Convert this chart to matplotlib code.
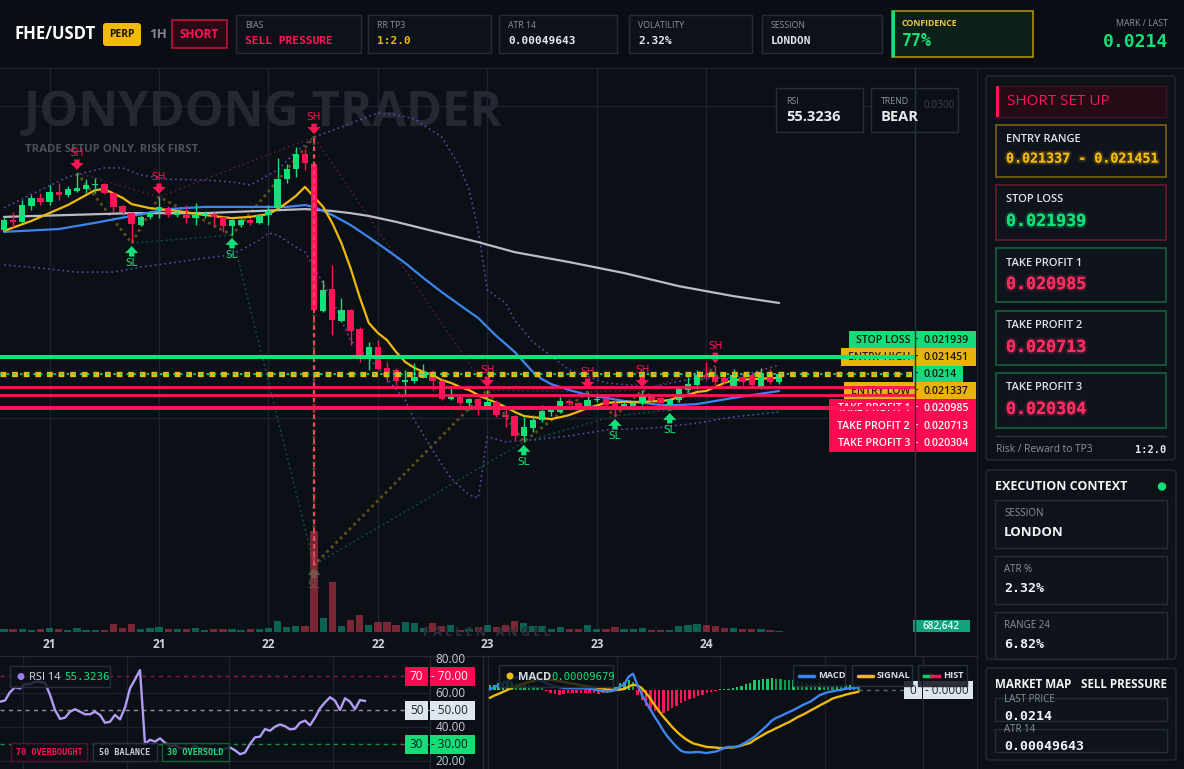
import matplotlib
matplotlib.use('Agg')
import matplotlib.pyplot as plt
import numpy as np
from matplotlib.patches import Rectangle, FancyBboxPatch, Circle
from matplotlib.transforms import Affine2D, offset_copy, blended_transform_factory
from matplotlib.lines import Line2D
from matplotlib.colors import to_rgba
import matplotlib.patheffects as pe

plt.rcParams['font.family'] = ['Open Sans', 'DejaVu Sans']
MONO = ['DejaVu Sans Mono']

# ---------------- data ----------------
opens = [0.02601,0.02633,0.02627,0.02678,0.02704,0.02691,0.02723,0.02713,0.02726,0.02732,
         0.02745,0.02748,0.02720,0.02678,0.02655,0.02617,0.02643,0.02665,0.02671,0.02649,
         0.02649,0.02639,0.02649,0.02652,0.02643,0.02614,0.02617,0.02633,0.02623,0.02649,
         0.02671,0.02764,0.02796,0.02845,0.02813,0.02342,0.02412,0.02310,0.02345,0.02284,
         0.02191,0.02226,0.02159,0.02152,0.02114,0.02117,0.02127,0.02146,0.02117,0.02059,
         0.02066,0.02046,0.02059,0.02037,0.02050,0.02008,0.02005,0.01941,0.01966,0.01992,
         0.02017,0.02017,0.02053,0.02046,0.02033,0.02056,0.02059,0.02046,0.02037,0.02037,
         0.02046,0.02069,0.02062,0.02040,0.02056,0.02088,0.02104,0.02136,0.02136,0.02127,
         0.02101,0.02130,0.02136,0.02098,0.02136,0.02114]
highs = [0.02643,0.02659,0.02697,0.02713,0.02720,0.02745,0.02752,0.02742,0.02784,0.02765,
         0.02768,0.02752,0.02723,0.02681,0.02659,0.02649,0.02662,0.02707,0.02678,0.02665,
         0.02681,0.02687,0.02662,0.02659,0.02646,0.02636,0.02640,0.02640,0.02652,0.02681,
         0.02832,0.02812,0.02867,0.02861,0.02899,0.02441,0.02489,0.02383,0.02348,0.02290,
         0.02242,0.02248,0.02178,0.02159,0.02152,0.02175,0.02171,0.02152,0.02120,0.02101,
         0.02069,0.02062,0.02062,0.02088,0.02056,0.02024,0.02008,0.02001,0.02008,0.02040,
         0.02037,0.02066,0.02059,0.02050,0.02082,0.02079,0.02066,0.02059,0.02053,0.02053,
         0.02088,0.02072,0.02066,0.02062,0.02098,0.02130,0.02152,0.02178,0.02165,0.02136,
         0.02155,0.02140,0.02143,0.02159,0.02155,0.02146]
lows = [0.02595,0.02611,0.02623,0.02665,0.02681,0.02681,0.02697,0.02707,0.02723,0.02720,
        0.02720,0.02716,0.02659,0.02649,0.02559,0.02614,0.02636,0.02639,0.02643,0.02643,
        0.02623,0.02617,0.02639,0.02611,0.02595,0.02585,0.02611,0.02617,0.02620,0.02617,
        0.02668,0.02752,0.02771,0.02793,0.01527,0.02339,0.02264,0.02307,0.02232,0.02178,
        0.02152,0.02152,0.02114,0.02104,0.02072,0.02111,0.02127,0.02088,0.02056,0.02056,
        0.02040,0.02024,0.02008,0.02030,0.02001,0.01969,0.01928,0.01922,0.01954,0.01985,
        0.02005,0.02014,0.02040,0.02030,0.02030,0.02050,0.02033,0.02005,0.02030,0.02033,
        0.02040,0.02050,0.02040,0.02024,0.02050,0.02082,0.02091,0.02120,0.02104,0.02107,
        0.02098,0.02104,0.02098,0.02091,0.02107,0.02107]
closes = [0.02633,0.02627,0.02681,0.02704,0.02691,0.02723,0.02713,0.02732,0.02736,0.02745,
          0.02747,0.02720,0.02675,0.02659,0.02620,0.02643,0.02655,0.02675,0.02649,0.02655,
          0.02639,0.02649,0.02652,0.02643,0.02614,0.02633,0.02633,0.02623,0.02649,0.02659,
          0.02764,0.02796,0.02845,0.02816,0.02345,0.02409,0.02313,0.02345,0.02277,0.02191,
          0.02226,0.02155,0.02146,0.02117,0.02120,0.02130,0.02146,0.02117,0.02059,0.02066,
          0.02046,0.02059,0.02027,0.02050,0.02008,0.02001,0.01941,0.01969,0.01992,0.02021,
          0.02024,0.02053,0.02046,0.02037,0.02056,0.02059,0.02040,0.02037,0.02043,0.02046,
          0.02069,0.02056,0.02046,0.02056,0.02091,0.02107,0.02136,0.02130,0.02114,0.02114,
          0.02136,0.02114,0.02104,0.02143,0.02114,0.02140]
volume_m = [2.7,2.7,2.7,1.7,2.7,4,2.7,1.7,4,1.7,1.7,1.7,8,4,8,2.7,4,5,2.7,2.7,
            2.7,4,1.7,2.7,2.7,2.7,1.7,2.7,2.7,4,11,5,6,6,100.7,14,50,6,11.7,16.7,
            6.7,10,10,6.7,10,8.7,4,9,6,6.7,1.7,2.7,4.7,6.7,5,7.3,10.7,9.3,6,6,
            3.3,4.7,2.7,3.3,6.7,2.7,2.7,4.7,2.7,3.3,4,1.7,1.7,1.7,6,6.7,8,6.7,5.7,4,
            4,3.3,3.3,2.7,1.7,0.682642]

ema_fast_idx = [0,3,7,10,11,13,14,16,19,22,25,27,29,30,31,32,33,34,35,36,37,38,39,40,41,42,43,44,45,46,47,48,49,50,
                51,52,53,54,55,56,57,58,59,60,61,62,64,66,68,70,72,73,74,75,76,77,78,79,80,82,85]
ema_fast_val = [0.02598,0.02630,0.02681,0.02729,0.02732,0.02704,0.02684,0.02671,0.02662,0.02649,0.02639,0.02643,
                0.02652,0.02668,0.02688,0.02710,0.02739,0.02707,0.02675,0.02623,0.02559,0.02479,0.02386,0.02303,
                0.02271,0.02248,0.02210,0.02178,0.02159,0.02146,0.02136,0.02120,0.02111,0.02098,0.02088,0.02072,
                0.02059,0.02047,0.02034,0.02018,0.02005,0.02001,0.01998,0.01995,0.02001,0.02008,0.02030,0.02047,
                0.02050,0.02050,0.02053,0.02056,0.02066,0.02072,0.02082,0.02085,0.02098,0.02111,0.02120,0.02123,0.02127]
ema_mid_idx = [0,6,10,14,18,22,27,31,33,34,36,38,40,42,44,46,48,50,52,54,55,56,57,58,59,60,62,64,66,68,70,72,74,76,78,80,82,85]
ema_mid_val = [0.02595,0.02604,0.02624,0.02646,0.02668,0.02675,0.02675,0.02675,0.02681,0.02675,0.02649,0.02617,
               0.02578,0.02537,0.02495,0.02447,0.02402,0.02360,0.02319,0.02261,0.02236,0.02210,0.02178,0.02146,
               0.02123,0.02107,0.02088,0.02072,0.02063,0.02053,0.02047,0.02040,0.02040,0.02043,0.02053,0.02063,
               0.02072,0.02085]
ma_slow_idx = [0,14,22,33,36,38,40,43,47,52,56,62,68,74,80,85]
ma_slow_val = [0.02643,0.02655,0.02655,0.02668,0.02662,0.02655,0.02646,0.02627,0.02598,0.02562,0.02530,0.02498,
               0.02463,0.02421,0.02389,0.02367]
bb_up_idx = [0,4,7,11,13,15,18,22,25,27,30,32,34,37,39,41,43,45,48,50,51,52,53,55,56,58,62,66,71,76,80,85]
bb_up_val = [0.02672,0.02729,0.02771,0.02800,0.02800,0.02777,0.02764,0.02761,0.02755,0.02745,0.02793,0.02851,
             0.02899,0.02931,0.02954,0.02976,0.02970,0.02957,0.02899,0.02803,0.02729,0.02601,0.02409,0.02367,
             0.02312,0.02242,0.02152,0.02111,0.02098,0.02127,0.02127,0.02168]
bb_lo_idx = [0,4,8,12,15,19,22,25,28,29,30,32,33,34,36,37,38,41,44,45,47,49,51,52,53,55,58,62,66,71,76,80,85]
bb_lo_val = [0.02489,0.02479,0.02466,0.02466,0.02482,0.02498,0.02511,0.02521,0.02569,0.02591,0.02585,0.02546,
             0.02530,0.02482,0.02377,0.02312,0.02248,0.02159,0.02056,0.01992,0.01896,0.01806,0.01752,0.01742,
             0.01938,0.01922,0.01928,0.01941,0.01960,0.01966,0.01982,0.02002,0.02018]

swing_high_idx = [8, 17, 34, 53, 64, 70, 78]
swing_low_idx = [14, 25, 34, 57, 67, 73]

date_idx = [5, 17, 29, 41, 53, 65, 77]
date_labels = ['21', '21', '22', '22', '23', '23', '24']

stop_loss = 0.021939
entry_high = 0.021451
entry_low = 0.021337
last_price = 0.0214
tp1, tp2, tp3 = 0.020985, 0.020713, 0.020304
price_grid = [0.020, 0.030]

rsi_vals = [54.9,55.6,60.5,63.4,62.7,65.3,65.3,66.6,66.6,66.0,
            59.0,50.0,44.8,45.5,49.0,50.5,49.0,47.5,47.5,49.0,
            47.1,42.5,43.1,47.1,44.5,51.5,62.7,68.0,73.5,30.0,
            32.5,31.4,33.3,30.8,28.4,29.4,27.5,27.5,26.9,29.0,
            27.5,27.3,27.0,26.3,26.3,27.2,28.0,26.3,24.0,25.0,
            30.0,33.9,34.3,38.8,37.8,40.2,41.5,40.5,38.6,39.0,
            42.5,43.8,41.0,45.5,51.0,54.5,57.5,55.5,50.0,56.9,
            54.9,50.5,55.9,55.3236]
rsi_ticks = [80, 60, 40, 20]

macd_e5 = [2,10,17,25,31,40,44,47,49,47, 42,37,32,25,18,13,10,7,6,6,
           6,6,5,4,2,-1,-4,-6,-4,0, 13,20,48,58,18,-16,-44,-70,-96,-120,
           -146,-168,-186,-203,-217,-223,-224,-223,-222,-224, -226,-223,-221,-215,-208,-204,-204,-204,-196,-188,
           -178,-168,-154,-140,-126,-110,-100,-94,-86,-79, -72,-64,-55,-48,-41,-30,-19,-13,-8,-5,
           -2,0,4,6,8,9.679]
signal_e5 = [-28,-20,-14,-7,0,7,13,18,24,29, 32,36,38,37,36,35,31,29,25,23,
             20,17,14,12,10,7,5,2,1,0, 1,4,12,19,16,7,-11,-31,-55,-76,
             -96,-114,-132,-148,-162,-174,-184,-192,-196,-200, -204,-205,-206,-208,-208,-206,-206,-203,-199,-194,
             -190,-179,-170,-161,-152,-145,-137,-130,-122,-115, -106,-97,-90,-82,-73,-65,-56,-48,-40,-31,
             -26,-22,-17,-13,-10,-6]
hist_e5 = [18,18,24,26,30,30,26,24,24,18, 14,12,6,-2,-10,-14,-18,-14,-12,-12,
           -10,-10,-12,-10,-12,-14,-12,-10,-6,10, 24,30,36,30,-18,-36,-58,-66,-74,-84,
           -82,-74,-66,-58,-48,-40,-34,-28,-22,-18, -12,-7,-2,2,4,5,7,12,14,22,
           26,34,36,38,41,43,41,38,36,34, 36,32,30,26,24,22,24,22,19,18,
           19,17,18,19,18,17]

# ---------------- style ----------------
BG = '#0b0f16'
HEAD = '#0a0d13'
PANEL = '#0d1219'
CARD = '#0f141c'
BORDER = '#232b38'
GRID = '#1b2230'
TXT = '#e4e8ee'
MUTED = '#8a92a0'
GREEN = '#14e07a'
RED = '#ff1458'
YEL = '#f0b90b'
BLUE = '#3d85f0'
GRAYL = '#b9bdc5'
PURP = '#5a4aa6'

W, H = 1184, 769
fig = plt.figure(figsize=(W / 100, H / 100), dpi=100)
fig.patch.set_facecolor(BG)
PX = Affine2D().scale(1 / W, -1 / H).translate(0, 1) + fig.transFigure


def box(x0, y0, x1, y1, fc, ec='none', lw=1.0, z=1.5, r=0, target=None):
    if r > 0:
        p = FancyBboxPatch((x0, y0), x1 - x0, y1 - y0, boxstyle=f'round,pad=0,rounding_size={r}',
                           transform=PX, fc=fc, ec=ec, lw=lw, zorder=z)
    else:
        p = Rectangle((x0, y0), x1 - x0, y1 - y0, transform=PX, fc=fc, ec=ec, lw=lw, zorder=z)
    if target is None:
        fig.add_artist(p)
    else:
        p.set_clip_on(False)
        target.add_artist(p)
    return p


def T(x, y, s, size=8, color=TXT, weight='normal', ha='left', va='center', family=None, z=5,
      target=None, **kw):
    kws = dict(fontsize=size, color=color, fontweight=weight, ha=ha, va=va, zorder=z, **kw)
    if family is not None:
        kws['family'] = family
    if target is None:
        return fig.text(x, y, s, transform=PX, **kws)
    return target.text(x, y, s, transform=PX, clip_on=False, **kws)


def L(x0, y0, x1, y1, color=BORDER, lw=1.0, z=2, **kw):
    fig.add_artist(Line2D([x0, x1], [y0, y1], transform=PX, color=color, lw=lw, zorder=z, **kw))


# ---------------- header ----------------
box(0, 0, W, 68, HEAD, z=0.2)
L(0, 68, W, 68, '#1a2130')
T(15, 34, 'FHE/USDT', 12, '#ffffff', 'bold')
box(103, 23, 141, 46, YEL, r=3)
T(122, 34.5, 'PERP', 7.5, '#1b1400', 'bold', ha='center')
T(149, 34, '1H', 9.5, '#7c8494', 'bold')
box(172, 20, 227, 48, '#260b16', ec='#b5153f', lw=1.2)
T(199.5, 34, 'SHORT', 8.5, RED, 'bold', ha='center')
metrics = [('BIAS', 'SELL PRESSURE', RED, 236, 361), ('RR TP3', '1:2.0', YEL, 368, 491),
           ('ATR 14', '0.00049643', TXT, 499, 617), ('VOLATILITY', '2.32%', TXT, 629, 752),
           ('SESSION', 'LONDON', TXT, 762, 882)]
for lab, val, col, x0, x1 in metrics:
    box(x0, 15, x1, 53, '#0d121a', ec='#252d3a', lw=1)
    T(x0 + 9, 26, lab, 6.3, MUTED)
    T(x0 + 9, 41, val, 8, col, 'bold', family=MONO)
box(892, 11, 1033, 57, '#0a2019', ec='#b38a14', lw=1.2)
box(892, 11, 895, 57, GREEN, z=1.6)
T(902, 23, 'CONFIDENCE', 6.3, '#f2c64a', 'bold')
T(902, 41, '77%', 12, GREEN, 'bold', family=MONO)
T(1168, 23, 'MARK / LAST', 6.3, MUTED, ha='right')
T(1168, 42, f'{last_price:.4f}', 13, GREEN, 'bold', ha='right', family=MONO)

# ---------------- main chart ----------------
ax = fig.add_axes([0, 1 - 632 / H, 915 / W, 564 / H])
ax.set_facecolor('none')
ax.set_axis_off()
ymin, ymax = 0.013125, 0.031202
ax.set_xlim(-0.44, 99.9)
ax.set_ylim(ymin, ymax)
n = len(closes)
xs = np.arange(n)

for i in date_idx:
    ax.axvline(i, color=GRID, lw=1, zorder=0.3)
for p in price_grid:
    ax.axhline(p, color=GRID, lw=1, zorder=0.3)

# watermark
T(24, 114, 'JONYDONG TRADER', 35.2, '#232832', 'bold', z=0.4, target=ax)
T(25, 149, 'TRADE SETUP ONLY. RISK FIRST.', 8.2, '#4c525c', 'bold', z=0.4, target=ax)

# bollinger + MAs
ax.plot(bb_up_idx, bb_up_val, color=PURP, lw=1.1, ls=(0, (1.2, 2)), zorder=1)
ax.plot(bb_lo_idx, bb_lo_val, color=PURP, lw=1.1, ls=(0, (1.2, 2)), zorder=1)
ax.plot(ma_slow_idx, ma_slow_val, color=GRAYL, lw=1.6, zorder=2, solid_capstyle='round')
ax.plot(ema_mid_idx, ema_mid_val, color=BLUE, lw=1.6, zorder=2.1, solid_capstyle='round')
ax.plot(ema_fast_idx, ema_fast_val, color=YEL, lw=1.6, zorder=2.2, solid_capstyle='round')

# swing structure lines
piv = sorted([(i, highs[i], 0) for i in swing_high_idx] + [(i, lows[i], 1) for i in swing_low_idx],
             key=lambda t: (t[0], t[2]))
ax.plot([p[0] for p in piv], [p[1] for p in piv], color='#5e4f1a', lw=2.0, ls=(0, (1, 1.3)), zorder=1.2)
ax.plot(swing_high_idx, [highs[i] for i in swing_high_idx], color='#551c33', lw=1, ls=(0, (1.5, 2)), zorder=1.1)
ax.plot(swing_low_idx, [lows[i] for i in swing_low_idx], color='#12513f', lw=1, ls=(0, (1.5, 2)), zorder=1.1)

# candles
for i in range(n):
    o, h, l, c = opens[i], highs[i], lows[i], closes[i]
    col = GREEN if c >= o else RED
    if l < 0.018:
        ax.vlines(i, l, h, color='#ff4a72', lw=1.3, linestyles=(0, (2.5, 2)), zorder=5)
    else:
        ax.vlines(i, l, h, color=col, lw=1.0, zorder=3)
    bh = max(abs(c - o), 0.00003)
    ax.add_patch(Rectangle((i - 0.35, min(o, c)), 0.7, bh, fc=col, ec='none', zorder=3.2))

# volume (1M volume drawn as 1 px of chart height)
vol_unit = (ymax - ymin) / 564
vtop = [ymin + v * vol_unit for v in volume_m]
vcols = ['#d63a4e' if closes[i] < opens[i] else '#0ba584' for i in range(n)]
ax.bar(xs, np.array(volume_m) * vol_unit, bottom=ymin, width=0.8, color=vcols, alpha=0.55, zorder=4)

# swing markers
def mark(i, kind):
    if kind == 'SH':
        y, col, d = highs[i], RED, 1
    else:
        y, col, d = lows[i], GREEN, -1
    a = 0.45 if y < vtop[i] else 1.0   # marker sitting inside the volume bar is dimmed
    tip = offset_copy(ax.transData, fig=fig, x=0, y=3 * d, units='dots')
    ax.annotate('', xy=(i, y), xycoords=tip, xytext=(0, 7.5 * d), textcoords='offset points',
                arrowprops=dict(arrowstyle='simple,head_length=0.5,head_width=0.95,tail_width=0.38',
                                fc=to_rgba(col, a), ec='none', shrinkA=0, shrinkB=0, mutation_scale=10),
                zorder=3.6)
    ax.annotate(kind, xy=(i, y), xycoords='data', xytext=(0, 14.5 * d), textcoords='offset points',
                ha='center', va='center', color=to_rgba(col, a), fontsize=7.5, family=['DejaVu Sans'],
                zorder=3.6)

for i in swing_high_idx:
    mark(i, 'SH')
for i in swing_low_idx:
    mark(i, 'SL')

# level lines
ax.axhline(stop_loss, color=GREEN, lw=2.9, zorder=6)
ax.axhline((entry_high + entry_low) / 2, color=YEL, lw=3.8, ls=(0, (1.1, 1.1)), zorder=6,
           dash_capstyle='butt')
ax.axhline(last_price, color=GREEN, lw=1.2, ls=(0, (1.5, 2.5)), zorder=6.1)
ax.axhline(tp1, color=RED, lw=2.0, zorder=6)
ax.axhline(tp2, color=RED, lw=2.0, zorder=6)
ax.axhline(tp3, color=RED, lw=2.9, zorder=6)

# right side level tags
tags = [('STOP LOSS', f'{stop_loss:.6f}', 331, 349, 849, '#16dc78', '#0a1a12', '#0a1a12'),
        ('ENTRY HIGH', f'{entry_high:.6f}', 348, 366, 841, '#e8b30c', '#2a2000', '#1a1400'),
        (None, f'{last_price:.4f}', 366, 382, 913, '#16dc78', '#0a1a12', '#0a1a12'),
        ('ENTRY LOW', f'{entry_low:.6f}', 382, 399, 844, '#e8b30c', '#2a2000', '#1a1400'),
        ('TAKE PROFIT 1', f'{tp1:.6f}', 399, 417, 829, '#ff0a50', '#ffffff', '#ffffff'),
        ('TAKE PROFIT 2', f'{tp2:.6f}', 417, 435, 829, '#ff0a50', '#ffffff', '#ffffff'),
        ('TAKE PROFIT 3', f'{tp3:.6f}', 435, 452, 829, '#ff0a50', '#ffffff', '#ffffff')]
for lab, val, y0, y1, xl, fc, tcl, tcv in tags:
    if lab is not None:
        box(xl, y0, 913, y1, fc, z=2, target=ax)
        T(910, (y0 + y1) / 2 + 0.5, lab, 7.6, tcl, 'semibold', ha='right', z=2.1, target=ax)
    xr = 963 if lab is None else 976
    box(913, y0, xr, y1, fc, z=2, target=ax)
    T(915, (y0 + y1) / 2 + 0.5, '-', 7.6, tcv, 'semibold', z=2.1, target=ax)
    T(923, (y0 + y1) / 2 + 0.5, val, 7.6, tcv, 'semibold', z=2.1, target=ax)

# date labels
btr = blended_transform_factory(ax.transData, PX)
for i, s in zip(date_idx, date_labels):
    ax.text(i, 644, s, transform=btr, ha='center', va='center', fontsize=8.5, fontweight='bold',
            color='#cfd3db', clip_on=False)
T(487, 632, 'F A L L E N   A N G E L', 9, '#2a303a', 'bold', ha='center', z=0.4)

# volume value tag
box(913, 620, 970, 632, '#10a37c', z=2)
T(941, 627, '682,642', 7.2, '#e8fff6', 'semibold', ha='center', z=2.1)

# RSI / TREND mini boxes and faint price label
for x0, x1, lab, val in [(776, 863, 'RSI', '55.3236'), (871, 958, 'TREND', 'BEAR')]:
    box(x0, 88, x1, 132, to_rgba('#0c1118', 0.85), ec='#262e3b', lw=1)
    T(x0 + 10, 101, lab, 6.3, MUTED)
    T(x0 + 10, 117, val, 10.5, '#e8ebf0', 'bold')
T(923, 105, '0.0300', 7.3, '#3a4251', z=6)

# frame lines
L(915, 68, 915, 656, '#263040')
L(977, 68, 977, 769, '#1c2330')
L(0, 656, 977, 656, '#232b38')
L(483, 656, 483, 769, '#232b38')
L(430, 656, 430, 769, '#1e2533')
L(923, 656, 923, 769, '#1e2533')

# ---------------- RSI panel ----------------
axr = fig.add_axes([0, 0, 430 / W, 112 / H])
axr.set_facecolor('none')
axr.set_axis_off()
axr.set_xlim(0, 86)
axr.set_ylim(15.3, 81.2)
for gx in [4.6, 25.4, 45.8, 66.6]:
    axr.axvline(gx, color=GRID, lw=1, zorder=0.3)
for t in [60, 40, 20]:
    axr.axhline(t, color=GRID, lw=1, zorder=0.3)
axr.axhline(70, color='#8c1a40', lw=1, ls=(0, (3, 3)), zorder=0.5)
axr.axhline(50, color='#8d95a3', lw=1, ls=(0, (3, 3)), zorder=0.5)
axr.axhline(30, color='#178a50', lw=1, ls=(0, (3, 3)), zorder=0.5)
axr.plot(np.arange(len(rsi_vals)), rsi_vals, color='#b29cf4', lw=1.7, zorder=2, solid_joinstyle='round')
rtr = blended_transform_factory(PX, axr.transData)
for t in rsi_ticks:
    fig.text(466, t, f'{t:.2f}', transform=rtr, ha='right', va='center', fontsize=8.5, color='#c9ced7', zorder=4)
for lvl, fc, tc in [(70, '#ff0a50', '#ffffff'), (50, '#dfe6ef', '#20252d'), (30, '#16dc78', '#0a1a12')]:
    yp = H - axr.transData.transform((0, lvl))[1]
    box(405, yp - 9.5, 428, yp + 9.5, fc, z=3)
    box(430, yp - 9.5, 475, yp + 9.5, fc, z=3)
    T(416.5, yp + 0.5, f'{lvl}', 8.5, tc, ha='center', z=3.1)
    T(431, yp + 0.5, f'- {lvl:.2f}', 8.5, tc, z=3.1)
box(10, 666, 110, 687, to_rgba('#0c1118', 0.8), ec='#272f3c', lw=1, z=3)
fig.add_artist(Circle((21, 676.5), 3.5, transform=PX, fc='#9b7cf0', ec='none', zorder=3.2))
T(29, 677, 'RSI 14', 8, '#d8dce3', z=3.2)
T(64, 677, f'{rsi_vals[-1]:.4f}', 7.8, GREEN, z=3.2, family=MONO)
for x0, x1, s, ec, tc in [(11, 87, '70 OVERBOUGHT', '#5a1030', RED), (93, 157, '50 BALANCE', '#2b323e', '#c9ced7'),
                          (162, 229, '30 OVERSOLD', '#136038', GREEN)]:
    box(x0, 743, x1, 761, to_rgba('#0b0f16', 0.8), ec=ec, lw=1, z=3)
    T((x0 + x1) / 2, 752.5, s, 6.1, tc, 'bold', ha='center', z=3.1, family=MONO)

# ---------------- MACD panel ----------------
axm = fig.add_axes([487 / W, 0, (923 - 487) / W, 112 / H])
axm.set_facecolor('none')
axm.set_axis_off()
axm.set_xlim(-0.69, 99.9)
axm.set_ylim(-283e-5, 118e-5)
for gx in [-0.46, 29.3, 53.1, 77.3]:
    axm.axvline(gx, color=GRID, lw=1, zorder=0.3)
m = len(macd_e5)
mx = np.arange(m)
hist = np.array(hist_e5) * 1e-5
hcols = []
for i in range(m):
    if hist[i] >= 0:
        hcols.append('#16c96a' if i == 0 or hist[i] >= hist[i - 1] else '#0f9a52')
    else:
        hcols.append('#ff1458')
axm.bar(mx, hist, width=0.55, color=hcols, zorder=1)
axm.plot(mx, np.array(signal_e5) * 1e-5, color=YEL, lw=1.7, zorder=2)
axm.plot(mx, np.array(macd_e5) * 1e-5, color=BLUE, lw=1.7, zorder=2.1)
axm.hlines(0, m - 1, 99.9, color='#5e6675', lw=1, linestyles=(0, (3, 3)), zorder=0.5)
y0p = H - axm.transData.transform((0, 0))[1]
box(904, y0p - 9, 922, y0p + 9, '#dfe6ef', z=3)
box(923, y0p - 9, 973, y0p + 9, '#dfe6ef', z=3)
T(913, y0p + 0.5, '0', 8.5, '#20252d', ha='center', z=3.1)
T(925, y0p + 0.5, '- 0.0000', 8.5, '#20252d', z=3.1)
box(499, 665, 613, 687, to_rgba('#0c1118', 0.8), ec='#272f3c', lw=1, z=3)
fig.add_artist(Circle((510, 676), 3.5, transform=PX, fc=YEL, ec='none', zorder=3.2))
T(518, 677, 'MACD', 8, '#d8dce3', 'bold', z=3.2)
T(551, 677, f'{macd_e5[-1] * 1e-5:.8f}', 7.6, GREEN, z=3.2, family=MONO)
for x0, x1, s, col in [(793, 845, 'MACD', BLUE), (852, 912, 'SIGNAL', YEL), (918, 967, 'HIST', None)]:
    box(x0, 665, x1, 686, to_rgba('#0c1118', 0.85), ec='#272f3c', lw=1, z=3)
    if col is None:
        L(x0 + 6, 675.5, x0 + 13, 675.5, '#16c96a', 2.5, z=3.2)
        L(x0 + 13, 675.5, x0 + 21, 675.5, '#ff1458', 2.5, z=3.2)
    else:
        L(x0 + 6, 675.5, x0 + 21, 675.5, col, 2.5, z=3.2, solid_capstyle='round')
    T(x0 + 25, 676, s, 6.6, '#d8dce3', 'bold', z=3.2)

# ---------------- right panel ----------------
box(986, 76, 1175, 460, PANEL, ec='#222a36', lw=1, r=3)
box(996, 86, 1166, 117, '#240c17', ec='#3e1424', lw=1)
box(996, 86, 999, 117, RED, z=1.7)
T(1007, 101.5, 'SHORT SET UP', 11, RED)
glow = lambda c: [pe.withStroke(linewidth=3, foreground=to_rgba(c, 0.18))]
cards = [('ENTRY RANGE', f'{entry_low:.6f} - {entry_high:.6f}', 125, 177, '#7a6011', YEL, 9.6),
         ('STOP LOSS', f'{stop_loss:.6f}', 185, 240, '#6a1a30', GREEN, 12),
         ('TAKE PROFIT 1', f'{tp1:.6f}', 248, 302, '#17603f', '#ff2d62', 12),
         ('TAKE PROFIT 2', f'{tp2:.6f}', 311, 365, '#17603f', '#ff2d62', 12),
         ('TAKE PROFIT 3', f'{tp3:.6f}', 373, 428, '#17603f', '#ff2d62', 12)]
for lab, val, y0, y1, ec, col, sz in cards:
    box(996, y0, 1166, y1, CARD, ec=ec, lw=1.2)
    T(1006, y0 + 15, lab, 8, '#dfe3ea', 'semibold')
    T(1006, y0 + (34 if lab == 'ENTRY RANGE' else 36), val, sz, col, 'bold', family=MONO,
      path_effects=glow(col))
L(996, 436, 1166, 436, '#2a3240')
T(996, 450, 'Risk / Reward to TP3', 7.3, MUTED)
T(1166, 450, '1:2.0', 7.5, '#e8ebf0', 'bold', ha='right', family=MONO)

box(986, 470, 1176, 659, PANEL, ec='#222a36', lw=1, r=3)
T(995, 486, 'EXECUTION CONTEXT', 9, '#f2f4f7', 'bold')
fig.add_artist(Circle((1162, 486.5), 4.2, transform=PX, fc='#14e07a', ec='none', zorder=3))
for lab, val, y0, y1 in [('SESSION', 'LONDON', 500, 548), ('ATR %', '2.32%', 556, 604), ('RANGE 24', '6.82%', 612, 659)]:
    box(995, y0, 1167, y1, CARD, ec='#252d3a', lw=1)
    T(1004, y0 + 14, lab, 7, MUTED)
    T(1004, y0 + 33, val, 9.5, '#f2f4f7', 'bold', family=None if lab == 'SESSION' else MONO)

box(986, 668, 1176, 760, PANEL, ec='#222a36', lw=1, r=3)
T(995, 684, 'MARKET MAP', 8.4, '#f2f4f7', 'bold')
T(1167, 684, 'SELL PRESSURE', 8.4, '#f2f4f7', 'bold', ha='right')
for lab, val, y0, y1 in [('LAST PRICE', f'{last_price:.4f}', 698, 721), ('ATR 14', '0.00049643', 729, 752)]:
    box(995, y0, 1167, y1, CARD, ec='#252d3a', lw=1)
    T(1004, y0 + 1, lab, 7, MUTED, z=5.5)
    T(1004, y0 + 18, val, 9.5, '#f2f4f7', 'bold', family=MONO, z=5.5)

fig.savefig('out.png', dpi=100, facecolor=BG)
